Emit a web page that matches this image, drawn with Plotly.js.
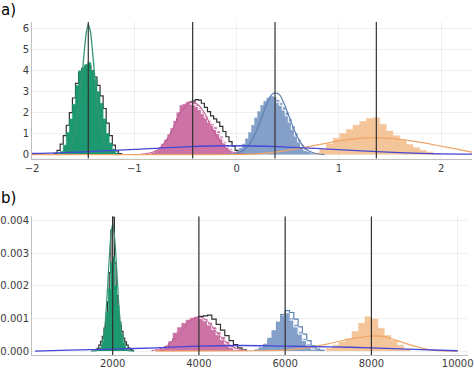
<!DOCTYPE html>
<html>
<head>
<meta charset="utf-8">
<script src="https://cdn.plot.ly/plotly-3.0.1.min.js"></script>
<style>html,body{margin:0;padding:0;background:#fff;}#plot{width:474px;height:369px;}</style>
</head>
<body>
<div id="plot"></div>
<script>
// ---------- Panel a) : standardized scale ----------
const aGreenHistX = [-1.74,-1.71,-1.68,-1.65,-1.62,-1.59,-1.56,-1.53,-1.50,-1.47,-1.44,-1.41,-1.38,-1.35,-1.32,-1.29,-1.26,-1.23,-1.20,-1.17];
const aGreenHistY = [0.05,0.15,0.45,1.05,1.7,2.4,3.3,4.0,4.15,4.3,4.4,4.0,3.6,3.0,2.45,1.7,1.0,0.55,0.25,0.08];
const aGreenOutX  = [-1.77,-1.74,-1.71,-1.68,-1.65,-1.62,-1.59,-1.56,-1.53,-1.50,-1.47,-1.44,-1.41,-1.38,-1.35,-1.32,-1.29,-1.26,-1.23,-1.20,-1.17,-1.14];
const aGreenOutY  = [0.05,0.2,0.5,0.9,1.4,2.0,2.7,3.4,3.9,4.1,4.2,4.25,4.0,3.7,3.3,2.8,2.2,1.5,0.9,0.45,0.18,0.05];
const aGreenCurveX = [-1.75,-1.68,-1.63,-1.59,-1.56,-1.53,-1.51,-1.49,-1.47,-1.45,-1.43,-1.41,-1.39,-1.37,-1.34,-1.31,-1.27,-1.22,-1.15];
const aGreenCurveY = [0.0,0.03,0.25,0.85,1.7,2.9,3.8,4.9,5.8,6.2,5.9,5.0,3.9,2.9,1.7,0.85,0.25,0.03,0.0];

const aPinkHistX = [-0.84,-0.81,-0.78,-0.75,-0.72,-0.69,-0.66,-0.63,-0.60,-0.57,-0.54,-0.51,-0.48,-0.45,-0.42,-0.39,-0.36,-0.33,-0.30,-0.27,-0.24,-0.21,-0.18,-0.15,-0.12,-0.09,-0.06,-0.03,0.00];
const aPinkHistY = [0.03,0.08,0.18,0.3,0.5,0.7,0.95,1.25,1.6,2.0,2.35,2.4,2.5,2.5,2.45,2.35,2.2,2.0,1.8,1.6,1.45,1.3,1.1,0.85,0.6,0.4,0.25,0.12,0.04];
const aPinkOutX  = [-0.81,-0.78,-0.75,-0.72,-0.69,-0.66,-0.63,-0.60,-0.57,-0.54,-0.51,-0.48,-0.45,-0.42,-0.39,-0.36,-0.33,-0.30,-0.27,-0.24,-0.21,-0.18,-0.15,-0.12,-0.09,-0.06,-0.03,0.00,0.03,0.06];
const aPinkOutY  = [0.03,0.08,0.15,0.3,0.5,0.75,1.05,1.35,1.7,2.0,2.25,2.4,2.5,2.55,2.62,2.6,2.45,2.25,2.05,1.85,1.7,1.55,1.35,1.1,0.85,0.62,0.4,0.2,0.07,0.02];
const aPinkWhiteX = [-0.45,-0.42,-0.39,-0.36,-0.33,-0.30,-0.27,-0.24,-0.21,-0.18,-0.15,-0.12,-0.09,-0.06,-0.03];
const aPinkWhiteY = [2.42,2.38,2.3,2.15,1.95,1.75,1.55,1.38,1.2,1.0,0.78,0.55,0.35,0.2,0.08];
const aPinkCurveX = [-0.95,-0.85,-0.78,-0.72,-0.66,-0.60,-0.55,-0.50,-0.45,-0.41,-0.36,-0.31,-0.26,-0.20,-0.14,-0.08,-0.01,0.10];
const aPinkCurveY = [0.0,0.07,0.2,0.48,0.9,1.45,1.95,2.3,2.49,2.48,2.3,1.95,1.45,0.9,0.48,0.2,0.07,0.0];

const aBlueHistX = [-0.02,0.01,0.04,0.07,0.10,0.13,0.16,0.19,0.22,0.25,0.28,0.31,0.34,0.37,0.40,0.43,0.46,0.49,0.52,0.55,0.58,0.61,0.64,0.67,0.70,0.73];
const aBlueHistY = [0.06,0.15,0.3,0.5,0.75,1.05,1.4,1.75,2.05,2.35,2.55,2.7,2.78,2.75,2.6,2.45,2.25,2.0,1.7,1.35,1.0,0.7,0.45,0.25,0.12,0.05];
const aBlueWhiteX = [0.40,0.43,0.46,0.49,0.52,0.55,0.58,0.61,0.64,0.67];
const aBlueWhiteY = [2.5,2.35,2.12,1.85,1.55,1.2,0.88,0.6,0.38,0.2];
const aBlueCurveX = [-0.10,0.0,0.08,0.14,0.20,0.25,0.30,0.34,0.38,0.42,0.46,0.51,0.56,0.62,0.68,0.76,0.86];
const aBlueCurveY = [0.0,0.06,0.25,0.62,1.2,1.85,2.47,2.85,2.95,2.85,2.47,1.85,1.2,0.62,0.25,0.06,0.0];

const aOrangeHistX = [0.78,0.845,0.91,0.975,1.04,1.105,1.17,1.235,1.30,1.365,1.43,1.495,1.56,1.625,1.69,1.755,1.82,1.885,1.95];
const aOrangeHistY = [0.08,0.25,0.5,0.78,1.0,1.2,1.4,1.58,1.72,1.76,1.45,1.12,0.9,0.68,0.48,0.32,0.2,0.12,0.05];
const aOrangeCurveX = [-2.0,-0.2,0.2,0.5,0.7,0.9,1.1,1.3,1.4,1.6,1.8,2.0,2.15,2.3];
const aOrangeCurveY = [0.0,0.0,0.03,0.2,0.38,0.56,0.72,0.8,0.8,0.72,0.58,0.4,0.26,0.12];

const aPriorX = [-2.0,-1.5,-1.0,-0.5,-0.05,0.4,0.9,1.37,1.8,2.3];
const aPriorY = [0.05,0.13,0.25,0.37,0.42,0.38,0.26,0.14,0.06,0.02];

const aVLines = [-1.45,-0.43,0.375,1.365];
const aXTicks = [-2,-1,0,1,2];
const aYTicks = [0,1,2,3,4,5,6];

// ---------- Panel b) : original scale ----------
const bGreenHistX = [1675,1725,1775,1825,1875,1925,1975,2025,2075,2125,2175,2225,2275,2325,2375];
const bGreenHistY = [0.00003,0.0001,0.0003,0.0007,0.0012,0.0019,0.0027,0.00288,0.002,0.0014,0.0009,0.0005,0.00025,0.0001,0.00004];
const bGreenOutX  = [1620,1660,1700,1740,1780,1820,1860,1900,1940,1980,2020,2060,2100,2140,2180,2220,2260,2300,2340,2380,2420,2460];
const bGreenOutY  = [0.00003,0.00008,0.00018,0.0003,0.00045,0.0007,0.001,0.0015,0.0024,0.0037,0.0041,0.0027,0.0017,0.0011,0.0008,0.0006,0.0004,0.00028,0.00018,0.0001,0.00005,0.00002];
const bGreenCurveX = [1500,1700,1760,1820,1870,1910,1950,2000,2050,2090,2130,2180,2240,2300,2500];
const bGreenCurveY = [0.0,0.00004,0.00022,0.00077,0.0017,0.0026,0.0034,0.0039,0.0034,0.0026,0.0017,0.00077,0.00022,0.00004,0.0];

const bPinkHistX = [3050,3150,3250,3350,3450,3550,3650,3750,3850,3950,4050,4150,4250,4350,4450,4550,4650,4750,4850,4950];
const bPinkHistY = [0.00002,0.00006,0.00015,0.0003,0.00055,0.00072,0.00085,0.00095,0.00101,0.00104,0.00103,0.00097,0.00086,0.00072,0.00057,0.00042,0.00028,0.00016,0.00008,0.00003];
const bPinkOutX  = [3150,3250,3350,3450,3550,3650,3750,3850,3950,4050,4150,4250,4350,4450,4550,4650,4750,4850,4950,5050];
const bPinkOutY  = [0.00004,0.0001,0.00022,0.00038,0.00055,0.0007,0.00083,0.00094,0.00102,0.00106,0.00108,0.0011,0.00098,0.00082,0.00064,0.00047,0.00032,0.0002,0.0001,0.00004];
const bPinkWhiteX = [4050,4150,4250,4350,4450,4550,4650,4750,4850];
const bPinkWhiteY = [0.001,0.00093,0.0008,0.00066,0.0005,0.00035,0.00022,0.00012,0.00005];
const bPinkCurveX = [2900,3200,3400,3600,3800,4000,4200,4400,4600,4800,5100];
const bPinkCurveY = [0.00001,0.00012,0.00031,0.0006,0.00092,0.00105,0.00092,0.0006,0.00031,0.00012,0.00001];

const bBlueHistX = [5350,5450,5550,5650,5750,5850,5950,6050,6150,6250,6350,6450,6550,6650,6750];
const bBlueHistY = [0.00003,0.0001,0.00022,0.0004,0.00063,0.00088,0.00108,0.00115,0.001,0.0008,0.00058,0.00037,0.0002,0.00009,0.00003];
const bBlueOutX  = [5350,5450,5550,5650,5750,5850,5950,6050,6150,6250,6350,6450,6550,6650,6750,6850];
const bBlueOutY  = [0.00003,0.00009,0.0002,0.00037,0.0006,0.00088,0.00112,0.00124,0.00118,0.00098,0.00074,0.00052,0.00032,0.00016,0.00006,0.00002];
const bBlueWhiteX = [6150,6250,6350,6450,6550,6650];
const bBlueWhiteY = [0.00095,0.00074,0.00052,0.00032,0.00016,0.00006];

const bOrangeHistX = [7025,7175,7325,7475,7625,7775,7925,8075,8225,8375,8525,8675,8825];
const bOrangeHistY = [0.00008,0.00018,0.00028,0.00038,0.0006,0.00085,0.00105,0.00098,0.0007,0.00048,0.00032,0.00018,0.00006];
const bOrangeCurveX = [3000,5500,6000,6500,7000,7500,8000,8300,8600,9000,9400,10000];
const bOrangeCurveY = [0.0,0.00001,0.00003,0.0001,0.00022,0.00037,0.00046,0.00044,0.00032,0.00015,0.00003,0.0];

const bPriorX = [200,1000,2000,3000,4000,5000,6000,7000,8000,9000,10000];
const bPriorY = [0.0,0.00003,0.00006,0.0001,0.00015,0.00017,0.00015,0.00013,0.0001,0.00005,0.00001];

const bVLines = [2000,4000,6000,8000];
const bXTicks = [2000,4000,6000,8000,10000];
const bYTicks = [0,0.001,0.002,0.003,0.004];

// ---------- styles ----------
const GREEN_FILL = 'rgb(28,153,113)';
const GREEN_LINE = 'rgb(52,150,112)';
const PINK_FILL  = 'rgb(204,114,165)';
const PINK_LINE  = 'rgb(196,96,150)';
const BLUE_FILL  = 'rgb(132,160,200)';
const BLUE_LINE  = 'rgb(92,128,180)';
const ORANGE_FILL= 'rgb(245,197,154)';
const ORANGE_LINE= 'rgb(240,166,104)';
const PRIOR_LINE = 'rgb(70,70,215)';
const DARK = 'rgb(50,50,50)';

// build a histogram step outline from bin centres/heights
function step(cx, hy, open) {
  const w = cx[1] - cx[0];
  const xs = [], ys = [];
  if (!open) { xs.push(cx[0] - w/2); ys.push(0); }
  for (let i = 0; i < cx.length; i++) { xs.push(cx[i] - w/2); ys.push(hy[i]); }
  xs.push(cx[cx.length-1] + w/2); ys.push(open ? hy[hy.length-1] : 0);
  return {x: xs, y: ys};
}
function stepTrace(cx, hy, color, width, xa, ya, fill, open) {
  const s = step(cx, hy, open);
  const t = {type:'scatter', mode:'lines', x:s.x, y:s.y, xaxis:xa, yaxis:ya,
    line:{color:color, width:width, shape:'hv'}, hoverinfo:'skip', showlegend:false};
  if (fill) { t.fill = 'tozeroy'; t.fillcolor = fill; }
  return t;
}
function curve(x, y, color, width, xa, ya) {
  return {type:'scatter', mode:'lines', x:x, y:y, xaxis:xa, yaxis:ya,
    line:{color:color, width:width, shape:'spline', smoothing:0.8}, hoverinfo:'skip', showlegend:false};
}

const traces = [
  // panel a
  stepTrace(aGreenOutX, aGreenOutY, DARK, 1.2, 'x', 'y'),
  stepTrace(aPinkOutX, aPinkOutY, DARK, 1.2, 'x', 'y'),
  stepTrace(aGreenHistX, aGreenHistY, GREEN_FILL, 0.5, 'x', 'y', GREEN_FILL),
  stepTrace(aPinkHistX, aPinkHistY, PINK_FILL, 0.5, 'x', 'y', PINK_FILL),
  stepTrace(aBlueHistX, aBlueHistY, BLUE_FILL, 0.5, 'x', 'y', BLUE_FILL),
  stepTrace(aOrangeHistX, aOrangeHistY, ORANGE_FILL, 0.5, 'x', 'y', ORANGE_FILL),
  stepTrace(aPinkWhiteX, aPinkWhiteY, 'white', 1, 'x', 'y', null, true),
  stepTrace(aBlueWhiteX, aBlueWhiteY, 'white', 1, 'x', 'y', null, true),
  curve(aGreenCurveX, aGreenCurveY, GREEN_LINE, 1.3, 'x', 'y'),
  curve(aPinkCurveX, aPinkCurveY, PINK_LINE, 1.1, 'x', 'y'),
  curve(aBlueCurveX, aBlueCurveY, BLUE_LINE, 1.2, 'x', 'y'),
  curve(aOrangeCurveX, aOrangeCurveY, ORANGE_LINE, 1.2, 'x', 'y'),
  curve(aPriorX, aPriorY, PRIOR_LINE, 1.3, 'x', 'y'),
  // panel b
  stepTrace(bGreenOutX, bGreenOutY, DARK, 1.2, 'x2', 'y2'),
  stepTrace(bPinkOutX, bPinkOutY, DARK, 1.2, 'x2', 'y2'),
  stepTrace(bBlueOutX, bBlueOutY, BLUE_LINE, 1.2, 'x2', 'y2'),
  stepTrace(bGreenHistX, bGreenHistY, GREEN_FILL, 0.5, 'x2', 'y2', GREEN_FILL),
  stepTrace(bPinkHistX, bPinkHistY, PINK_FILL, 0.5, 'x2', 'y2', PINK_FILL),
  stepTrace(bBlueHistX, bBlueHistY, BLUE_FILL, 0.5, 'x2', 'y2', BLUE_FILL),
  stepTrace(bOrangeHistX, bOrangeHistY, ORANGE_FILL, 0.5, 'x2', 'y2', ORANGE_FILL),
  stepTrace(bPinkWhiteX, bPinkWhiteY, 'white', 1, 'x2', 'y2', null, true),
  stepTrace(bBlueWhiteX, bBlueWhiteY, 'white', 1, 'x2', 'y2', null, true),
  curve(bGreenCurveX, bGreenCurveY, GREEN_LINE, 1.2, 'x2', 'y2'),
  curve(bPinkCurveX, bPinkCurveY, PINK_LINE, 1.0, 'x2', 'y2'),
  curve(bOrangeCurveX, bOrangeCurveY, ORANGE_LINE, 1.2, 'x2', 'y2'),
  curve(bPriorX, bPriorY, PRIOR_LINE, 1.3, 'x2', 'y2')
];

const shapes = [];
aVLines.forEach(v => shapes.push({type:'line', xref:'x', yref:'y domain', x0:v, x1:v, y0:0, y1:1, line:{color:DARK, width:1.2}, layer:'above'}));
bVLines.forEach(v => shapes.push({type:'line', xref:'x2', yref:'y2 domain', x0:v, x1:v, y0:0, y1:1, line:{color:DARK, width:1.2}, layer:'above'}));

const axisBase = {showgrid:true, gridcolor:'rgba(0,0,0,0.06)', gridwidth:1, zeroline:false,
  showline:true, linecolor:'rgba(0,0,0,0.25)', linewidth:1, ticks:'',
  tickfont:{family:'DejaVu Sans', size:10, color:'rgb(60,60,60)'}};

const layout = {
  width:474, height:369,
  margin:{l:32, r:2, t:22, b:14},
  paper_bgcolor:'white', plot_bgcolor:'white',
  showlegend:false,
  xaxis: Object.assign({}, axisBase, {domain:[0,1], anchor:'y', range:[-2.0,2.3], tickvals:aXTicks}),
  yaxis: Object.assign({}, axisBase, {domain:[0.59,1], anchor:'x', range:[-0.19,6.33], tickvals:aYTicks}),
  xaxis2: Object.assign({}, axisBase, {domain:[0,0.99], anchor:'y2', range:[130,10230], tickvals:bXTicks, tickformat:'d', ticklabelstandoff:-1, ticklabeloverflow:'allow'}),
  yaxis2: Object.assign({}, axisBase, {domain:[0,0.416], anchor:'x2', range:[-0.00012,0.00412], tickvals:bYTicks, tickformat:'.3f'}),
  shapes: shapes,
  annotations:[
    {text:'a)', xref:'paper', yref:'paper', x:-0.075, y:1.068, xanchor:'left', yanchor:'top', showarrow:false, font:{family:'DejaVu Sans', size:15, color:'black'}},
    {text:'b)', xref:'paper', yref:'paper', x:-0.075, y:0.47, xanchor:'left', yanchor:'middle', showarrow:false, font:{family:'DejaVu Sans', size:15, color:'black'}}
  ]
};

Plotly.newPlot('plot', traces, layout, {staticPlot:true, displayModeBar:false});
</script>
</body>
</html>
